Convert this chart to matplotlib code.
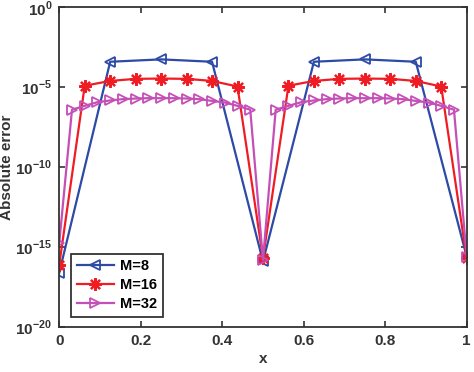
import matplotlib

matplotlib.use("Agg")
import matplotlib.pyplot as plt
import numpy as np

# log10 of absolute error
x8 = np.linspace(0, 1, 9)
err8 = [-16.6, -3.4, -3.25, -3.4, -15.9, -3.4, -3.25, -3.4, -15.6]

x16 = np.linspace(0, 1, 17)
err16 = [-16.1, -4.9, -4.6, -4.47, -4.45, -4.47, -4.6, -4.95, -15.7,
         -4.9, -4.6, -4.47, -4.45, -4.47, -4.6, -4.95, -15.7]

x32 = np.linspace(0, 1, 33)
half32 = [-6.4, -6.16, -5.93, -5.82, -5.74, -5.70, -5.68, -5.68, -5.68,
          -5.70, -5.74, -5.85, -5.95, -6.16, -6.4]
err32 = [-14.74] + half32 + [-15.8] + half32 + [-15.6]

plt.rcParams["font.family"] = ["Liberation Sans", "DejaVu Sans"]
plt.rcParams["font.weight"] = "bold"
plt.rcParams["mathtext.fontset"] = "custom"
plt.rcParams["mathtext.rm"] = "Liberation Sans:bold"
plt.rcParams["mathtext.bf"] = "Liberation Sans:bold"

fig = plt.figure(figsize=(4.74, 3.72), dpi=100)
ax = fig.add_axes([0.125, 0.121, 0.8596, 0.859])

ax.semilogy(x8, 10.0 ** np.array(err8), color="#2c4aa6", lw=1.6,
            marker="<", ms=7, mfc="none", mew=1.3, label="M=8")
ax.semilogy(x16, 10.0 ** np.array(err16), color="#f01c24", lw=1.6,
            marker=(8, 2, 0), ms=9, mew=1.6, label="M=16")
ax.semilogy(x32, 10.0 ** np.array(err32), color="#c44fb6", lw=1.6,
            marker=">", ms=7, mfc="none", mew=1.3, label="M=32")

ax.set_xlim(0, 1)
ax.set_ylim(1e-20, 1)
ax.set_xticks([0, 0.2, 0.4, 0.6, 0.8, 1])
ax.set_xticklabels(["0", "0.2", "0.4", "0.6", "0.8", "1"])
ax.set_yticks([1e-20, 1e-15, 1e-10, 1e-5, 1])
ax.set_yticklabels([r"$10^{-20}$", r"$10^{-15}$", r"$10^{-10}$", r"$10^{-5}$", r"$10^{0}$"])
ax.yaxis.set_minor_locator(matplotlib.ticker.NullLocator())
ax.tick_params(direction="in", top=True, right=True, labelsize=11, length=4,
               width=1.2, colors="#333333", labelcolor="#333333", pad=5)
for s in ax.spines.values():
    s.set_linewidth(1.3)
    s.set_color("#333333")

ax.set_xlabel("x", fontsize=11, fontweight="bold", color="#333333", labelpad=3)
ax.set_ylabel("Absolute error", fontsize=11, fontweight="bold", color="#333333", labelpad=1)

leg = ax.legend(loc="lower left", bbox_to_anchor=(0.012, 0.01), fontsize=10.5,
                fancybox=False, framealpha=1, edgecolor="#333333",
                handlelength=2.6, borderpad=0.35, labelspacing=0.35,
                handletextpad=0.4)
leg.get_frame().set_linewidth(1.3)

fig.savefig("out.png", dpi=100)
